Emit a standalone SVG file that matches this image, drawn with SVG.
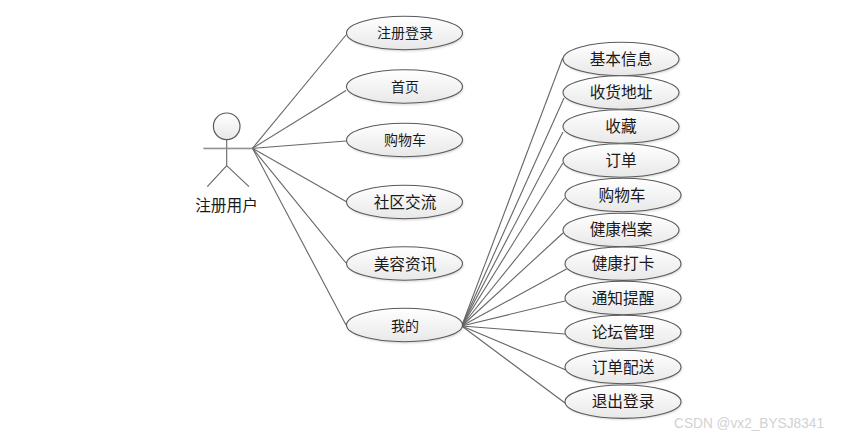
<svg xmlns="http://www.w3.org/2000/svg" width="845" height="439" viewBox="0 0 845 439">
<style>
text{font-family:"Noto Sans CJK SC","Liberation Sans",sans-serif;fill:#1a1a1a;text-anchor:middle}
.s{font-size:14px}.b{font-size:15.7px}
.u{fill:url(#g);stroke:#5a5a5a;stroke-width:1.1}
.h{fill:#000;opacity:.16;filter:url(#bl)}
.l{stroke:#666;stroke-width:1.1;fill:none}
.a{stroke:#666;stroke-width:1.1;fill:none}
</style>
<defs>
<linearGradient id="g" x1="0" y1="0" x2="0" y2="1"><stop offset="0" stop-color="#fff"/><stop offset="1" stop-color="#e8e8e8"/></linearGradient>
<filter id="bl" x="-10%" y="-20%" width="120%" height="140%"><feGaussianBlur stdDeviation="1"/></filter>
<ellipse id="e" rx="58" ry="16.7"/>
</defs>
<rect width="845" height="439" fill="#fff"/>
<g id="connectors" class="l">
<path d="M252.5 148.3L346 35"/>
<path d="M252.5 148.3L346 90.5"/>
<path d="M252.5 148.3L346 141"/>
<path d="M252.5 148.3L346 201.5"/>
<path d="M252.5 148.3L346 263"/>
<path d="M252.5 148.3L346 325"/>
<path d="M461.7 326L562.7 58"/>
<path d="M461.7 326L564 98"/>
<path d="M461.7 326L563 132"/>
<path d="M461.7 326L563 163"/>
<path d="M461.7 326L565 198"/>
<path d="M461.7 326L563 233"/>
<path d="M461.7 326L566.5 269"/>
<path d="M461.7 326L565 301"/>
<path d="M461.7 326L565 334"/>
<path d="M461.7 326L566 370"/>
<path d="M461.7 326L565 403"/>
</g>
<g id="actor">
<circle cx="226.7" cy="126.3" r="13.3" fill="url(#g)" stroke="#5a5a5a" stroke-width="1.2"/>
<path class="a" d="M226.7 139.6V165.7M203.5 148.3H252.5M226.7 165.7L207.3 186.7M226.7 165.7L249 186.7"/>
<path d="M203.5 148.8H252.5" stroke="#999" stroke-width="1"/>
<text class="b" x="226.500" y="211">注册用户</text>
</g>
<g id="n1"><use href="#e" class="h" x="405.5" y="34.5"/><ellipse class="u" cx="404.5" cy="33" rx="58" ry="16.7"/><text class="s" x="405" y="38">注册登录</text></g>
<g id="n2"><use href="#e" class="h" x="405.5" y="88"/><ellipse class="u" cx="404.5" cy="86.5" rx="58" ry="16.7"/><text class="s" x="405" y="92">首页</text></g>
<g id="n3"><use href="#e" class="h" x="405.5" y="141.5"/><ellipse class="u" cx="404.5" cy="140" rx="58" ry="16.7"/><text class="s" x="405" y="145">购物车</text></g>
<g id="n4"><use href="#e" class="h" x="405.5" y="203.5"/><ellipse class="u" cx="404.5" cy="202" rx="58" ry="16.7"/><text class="b" x="405" y="208">社区交流</text></g>
<g id="n5"><use href="#e" class="h" x="405.5" y="265"/><ellipse class="u" cx="404.5" cy="263.5" rx="58" ry="16.7"/><text class="b" x="405" y="269.500">美容资讯</text></g>
<g id="n6"><use href="#e" class="h" x="405.5" y="326.500"/><ellipse class="u" cx="404.5" cy="325" rx="58" ry="16.7"/><text class="s" x="405" y="331">我的</text></g>
<g id="m1"><use href="#e" class="h" x="622" y="60.500"/><ellipse class="u" cx="621" cy="59" rx="58" ry="16.7"/><text class="b" x="621" y="64.500">基本信息</text></g>
<g id="m2"><use href="#e" class="h" x="622" y="94"/><ellipse class="u" cx="621" cy="92.500" rx="58" ry="16.7"/><text class="b" x="621" y="98">收货地址</text></g>
<g id="m3"><use href="#e" class="h" x="622" y="128"/><ellipse class="u" cx="621" cy="126.500" rx="58" ry="16.7"/><text class="b" x="621" y="132">收藏</text></g>
<g id="m4"><use href="#e" class="h" x="622" y="162"/><ellipse class="u" cx="621" cy="160.500" rx="58" ry="16.7"/><text class="b" x="621" y="166">订单</text></g>
<g id="m5"><use href="#e" class="h" x="624" y="196.500"/><ellipse class="u" cx="623" cy="195" rx="58" ry="16.7"/><text class="b" x="622" y="200.500">购物车</text></g>
<g id="m6"><use href="#e" class="h" x="622" y="231.500"/><ellipse class="u" cx="621" cy="230" rx="58" ry="16.7"/><text class="b" x="621" y="235">健康档案</text></g>
<g id="m7"><use href="#e" class="h" x="624" y="265"/><ellipse class="u" cx="623" cy="263.700" rx="58" ry="16.7"/><text class="b" x="623" y="269">健康打卡</text></g>
<g id="m8"><use href="#e" class="h" x="624" y="299.500"/><ellipse class="u" cx="623" cy="298" rx="58" ry="16.7"/><text class="b" x="623" y="303.500">通知提醒</text></g>
<g id="m9"><use href="#e" class="h" x="624" y="333.500"/><ellipse class="u" cx="623" cy="332" rx="58" ry="16.7"/><text class="b" x="623" y="337.500">论坛管理</text></g>
<g id="m10"><use href="#e" class="h" x="624" y="368.500"/><ellipse class="u" cx="623" cy="367" rx="58" ry="16.7"/><text class="b" x="623" y="372.500">订单配送</text></g>
<g id="m11"><use href="#e" class="h" x="624" y="403"/><ellipse class="u" cx="623" cy="401.700" rx="58" ry="16.7"/><text class="b" x="623" y="407">退出登录</text></g>
<text x="749" y="428" style="font-family:'Liberation Sans',sans-serif;font-size:14px;fill:#d2d2d2" textLength="150" lengthAdjust="spacingAndGlyphs">CSDN @vx2_BYSJ8341</text>
</svg>
